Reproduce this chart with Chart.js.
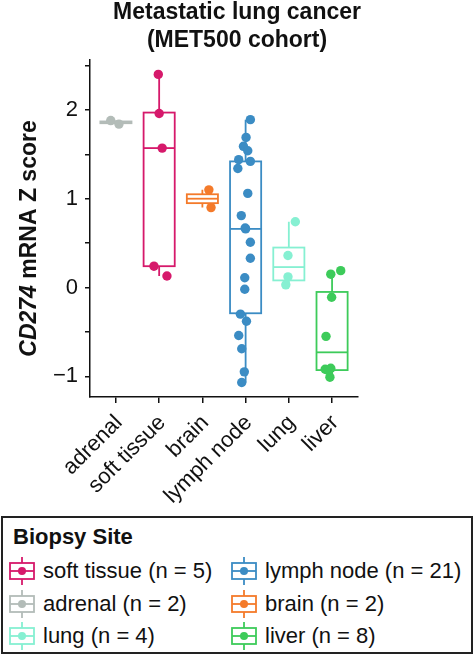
<!DOCTYPE html>
<html>
<head>
<meta charset="utf-8">
<script src="https://cdn.jsdelivr.net/npm/chart.js@4/dist/chart.umd.min.js"></script>
<style>
 body{margin:0;background:#fff;}
 #wrap{position:relative;width:474px;height:656px;font-family:'Liberation Sans',Arial,sans-serif;color:#111;}
 #chartBox{position:absolute;left:0;top:0;width:474px;height:512px;}
 #legend{position:absolute;left:1px;top:516px;width:472px;height:138px;box-sizing:border-box;border:2px solid #222;}
 #legend .ttl{position:absolute;left:10px;top:6px;font-weight:bold;font-size:22px;line-height:26px;}
 #legend .item{position:absolute;height:34px;display:flex;align-items:center;font-size:22px;white-space:nowrap;}
 #legend .item svg{margin-right:7px;}
</style>
</head>
<body>
<div id="wrap">
 <div id="chartBox"><canvas id="c"></canvas></div>
 <div id="legend"><div class="ttl">Biopsy Site</div></div>
</div>
<script>
// categories in x order
const sites = ["adrenal","soft tissue","brain","lymph node","lung","liver"];
const siteColors = ["#b3bcb8","#d6196b","#f47a2a","#3b8cc4","#86f0d2","#3dcb5a"];

const titleLines = ["Metastatic lung cancer","(MET500 cohort)"];

// box stats (whisker low, q1, median, q3, whisker high)
const boxLow  = [1.84, 0.13, 0.90, -1.07, 0.03, -1.01];
const boxQ1   = [1.85, 0.24, 0.95, -0.29, 0.08, -0.93];
const boxMed  = [1.86, 1.57, 1.00,  0.66, 0.23, -0.73];
const boxQ3   = [1.87, 1.97, 1.05,  1.42, 0.45, -0.05];
const boxHigh = [1.88, 2.40, 1.10,  1.89, 0.74,  0.19];

// points (values) and their horizontal jitter in category units
const adrenalVals = [1.88, 1.84];
const adrenalJit  = [-0.12, 0.07];
const softVals = [2.40, 1.96, 1.57, 0.24, 0.13];
const softJit  = [-0.02, 0.00, 0.07, -0.12, 0.18];
const brainVals = [1.10, 0.90];
const brainJit  = [0.15, 0.20];
const lymphVals = [1.89,1.69,1.59,1.54,1.44,1.42,1.34,1.06,0.81,0.67,0.51,0.33,0.11,-0.02,-0.30,-0.38,-0.54,-0.69,-0.95,-1.07,0.66];
const lymphJit  = [0.11,0.01,-0.05,0.05,-0.16,0.11,-0.18,0.05,-0.10,-0.01,0.11,0.11,-0.02,-0.02,-0.12,0.02,-0.16,-0.09,-0.03,-0.09,0.00];
const lungVals = [0.74, 0.36, 0.12, 0.03];
const lungJit  = [0.15, -0.02, -0.02, -0.07];
const liverVals = [0.19, 0.15, -0.11, -0.55, -0.91, -0.92, -1.01, -0.93];
const liverJit  = [0.20, -0.03, -0.01, -0.14, -0.03, -0.16, -0.05, -0.10];

const pointVals = [adrenalVals, softVals, brainVals, lymphVals, lungVals, liverVals];
const pointJit  = [adrenalJit, softJit, brainJit, lymphJit, lungJit, liverJit];

// legend
const legendOrder = ["soft tissue","lymph node","adrenal","brain","lung","liver"];
const legendCounts = [5, 21, 2, 2, 4, 8];

const yTickLabel = v => Number.isInteger(v) ? (v < 0 ? "\u2212" + Math.abs(v) : String(v)) : "";

const FAM = "'Liberation Sans', Arial, sans-serif";
Chart.defaults.font.family = FAM;
Chart.defaults.color = "#111";

const datasets = sites.map((s,i)=>({
  label:s,
  data: pointVals[i].map((v,j)=>({x:i+1+pointJit[i][j], y:v})),
  backgroundColor: siteColors[i],
  borderWidth:0,
  pointRadius:4.7,
  pointHoverRadius:4.7
}));

/* boxes, whiskers, medians */
const boxPlugin = {
  id:"boxes",
  beforeDatasetsDraw(chart){
    const {ctx, scales:{x,y}} = chart;
    const half = 0.36;
    ctx.save();
    ctx.lineWidth = 1.8;
    sites.forEach((s,i)=>{
      const c = i+1;
      const xl = x.getPixelForValue(c-half), xr = x.getPixelForValue(c+half), xc = x.getPixelForValue(c);
      const yq1 = y.getPixelForValue(boxQ1[i]), yq3 = y.getPixelForValue(boxQ3[i]);
      ctx.strokeStyle = siteColors[i];
      ctx.beginPath();
      ctx.moveTo(xc, y.getPixelForValue(boxHigh[i])); ctx.lineTo(xc, yq3);
      ctx.moveTo(xc, yq1); ctx.lineTo(xc, y.getPixelForValue(boxLow[i]));
      ctx.stroke();
      ctx.strokeRect(xl, yq3, xr-xl, yq1-yq3);
      const ym = y.getPixelForValue(boxMed[i]);
      ctx.beginPath(); ctx.moveTo(xl, ym); ctx.lineTo(xr, ym); ctx.stroke();
    });
    ctx.restore();
  }
};

/* titles: centred on the page, y title with italic gene name */
const textPlugin = {
  id:"texts",
  afterDraw(chart){
    const {ctx, chartArea:a, width} = chart;
    ctx.save();
    ctx.fillStyle = "#111";
    ctx.textAlign = "center";
    ctx.textBaseline = "middle";
    ctx.font = "bold 23px " + FAM;
    titleLines.forEach((t,k)=>ctx.fillText(t, width/2, 13 + k*28));
    ctx.restore();

    const f1 = "italic bold 23px " + FAM;
    const f2 = "bold 23px " + FAM;
    const t1 = "CD274", t2 = " mRNA Z score";
    ctx.save();
    ctx.font = f1; const w1 = ctx.measureText(t1).width;
    ctx.font = f2; const w2 = ctx.measureText(t2).width;
    ctx.translate(30, (a.top + a.bottom)/2 + 10);
    ctx.rotate(-Math.PI/2);
    ctx.textBaseline = "middle";
    ctx.fillStyle = "#111";
    const x0 = -(w1+w2)/2;
    ctx.font = f1; ctx.fillText(t1, x0, 0);
    ctx.font = f2; ctx.fillText(t2, x0 + w1, 0);
    ctx.restore();
  }
};

new Chart(document.getElementById("c"), {
  type:"scatter",
  data:{datasets},
  options:{
    responsive:true,
    maintainAspectRatio:false,
    animation:false,
    layout:{padding:{left:0,right:116,top:60,bottom:0}},
    plugins:{
      legend:{display:false},
      tooltip:{enabled:false},
      title:{display:false}
    },
    scales:{
      x:{
        type:"linear",
        min:0.4, max:6.6,
        afterBuildTicks(scale){ scale.ticks = sites.map((s,i)=>({value:i+1})); },
        afterFit(scale){ scale.height = 115; },
        ticks:{
          callback:v=>sites[v-1],
          autoSkip:false,
          minRotation:45, maxRotation:45,
          font:{size:22},
          color:"#111",
          padding:7,
          labelOffset:3
        },
        grid:{drawOnChartArea:false, drawTicks:true, tickLength:6, color:"#111", lineWidth:1.5},
        border:{display:true, color:"#111", width:1.5}
      },
      y:{
        min:-1.233, max:2.562,
        afterFit(scale){ scale.width = 90; },
        ticks:{
          stepSize:0.5,
          includeBounds:false,
          callback:yTickLabel,
          font:{size:22},
          color:"#111",
          padding:7
        },
        grid:{drawOnChartArea:false, drawTicks:true, tickLength:5, color:"#111", lineWidth:1.5},
        border:{display:true, color:"#111", width:1.5}
      }
    }
  },
  plugins:[boxPlugin, textPlugin]
});

/* legend (html) */
const lg = document.getElementById("legend");
const colLeft = [5, 227];
const rowMid = [53, 86, 118];
legendOrder.forEach((name,k)=>{
  const col = siteColors[sites.indexOf(name)];
  const d = document.createElement("div");
  d.className = "item";
  d.style.left = colLeft[k%2] + "px";
  d.style.top = (rowMid[Math.floor(k/2)] - 17) + "px";
  d.innerHTML =
    `<svg width="28" height="30" viewBox="0 0 28 30">
      <line x1="14" y1="1" x2="14" y2="29" stroke="${col}" stroke-width="1.8"/>
      <rect x="2" y="7" width="24" height="16" fill="#fff" stroke="${col}" stroke-width="1.8"/>
      <line x1="2" y1="15" x2="26" y2="15" stroke="${col}" stroke-width="1.8"/>
      <circle cx="14" cy="15" r="4" fill="${col}"/>
    </svg><span>${name} (n = ${legendCounts[k]})</span>`;
  lg.appendChild(d);
});
</script>
</body>
</html>
